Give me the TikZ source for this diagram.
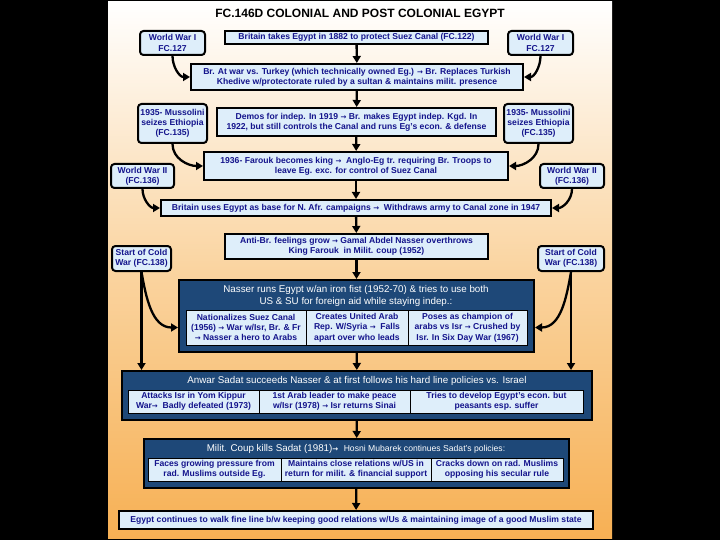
\documentclass[tikz,border=0pt]{standalone}
\usepackage{fontspec}
\setmainfont{Liberation Sans}
\newfontfamily\djv{DejaVu Sans}
\newcommand{\ra}{{\djv\bfseries\fontsize{7}{8}\selectfont →}}
\usetikzlibrary{arrows.meta}
\definecolor{navy}{RGB}{20,20,140}
\definecolor{lightbox}{RGB}{222,238,250}
\definecolor{darkbox}{RGB}{30,72,120}
\definecolor{orng}{RGB}{247,176,84}
\tikzset{
 lbox/.style={draw=black, line width=2pt, fill=lightbox, text=navy, font=\fontsize{8.6}{10.2}\selectfont\bfseries, align=center, inner sep=0pt},
 sbox/.style={lbox, rounded corners=3.5pt},
 dbox/.style={draw=black, line width=2pt, fill=darkbox, inner sep=0pt},
 dtitle/.style={text=white, font=\fontsize{9.8}{12}\selectfont, align=center, inner sep=0pt},
 ibox/.style={draw=black, line width=0.8pt, fill=lightbox, text=navy, font=\fontsize{8.6}{10.4}\selectfont\bfseries, align=center, inner sep=0pt},
 arr/.style={-{Triangle[length=7pt,width=8pt]}, line width=2.3pt, black},
}
\newcommand{\bx}[7]{\node[#1, minimum width=#4-#2, minimum height=#5-#3] (#6) at ({(#2+#4)/2},{(#3+#5)/2}) {#7};}
\begin{document}
\begin{tikzpicture}[x=1pt,y=-1pt]
\fill[black] (0,0) rectangle (720,540);
\useasboundingbox (0,0) rectangle (720,540);
\shade[top color=white, bottom color=orng, middle color={rgb,255:red,250;green,212;blue,160}] (108,2) rectangle (612,538);
\node[font=\fontsize{12}{14}\selectfont\bfseries] (title) at (360,13) {FC.146D COLONIAL AND POST COLONIAL EGYPT};
\bx{sbox}{140}{31}{205}{55}{ww1l}{World War I\\FC.127}
\bx{sbox}{508}{31}{573}{55}{ww1r}{World War I\\FC.127}
\bx{lbox}{225}{31}{488}{44}{brit}{Britain takes Egypt in 1882 to protect Suez Canal (FC.122)}
\bx{lbox}{191}{64}{523}{90}{war}{Br. At war vs. Turkey (which technically owned Eg.) \ra\ Br. Replaces Turkish\\Khedive w/protectorate ruled by a sultan \& maintains milit. presence}
\bx{sbox}{138}{104}{207}{143}{musl}{1935- Mussolini\\seizes Ethiopia\\(FC.135)}
\bx{sbox}{504}{104}{573}{143}{musr}{1935- Mussolini\\seizes Ethiopia\\(FC.135)}
\bx{lbox}{217}{108}{496}{136}{demos}{Demos for indep. In 1919 \ra\ Br. makes Egypt indep. Kgd. In\\1922, but still controls the Canal and runs Eg's econ. \& defense}
\bx{lbox}{204}{152}{508}{180}{farouk}{1936- Farouk becomes king \ra\ \ Anglo-Eg tr. requiring Br. Troops to\\leave Eg. exc. for control of Suez Canal}
\bx{sbox}{111}{164}{174}{188}{ww2l}{World War II\\(FC.136)}
\bx{sbox}{540}{164}{604}{188}{ww2r}{World War II\\(FC.136)}
\bx{lbox}{161}{200}{551}{216}{base}{Britain uses Egypt as base for N. Afr. campaigns \ra\ \ Withdraws army to Canal zone in 1947}
\bx{lbox}{225}{234}{488}{259}{anti}{Anti-Br. feelings grow \ra\ Gamal Abdel Nasser overthrows\\King Farouk \ in Milit. coup (1952)}
\bx{sbox}{112}{246}{171}{271}{cwl}{Start of Cold\\War (FC.138)}
\bx{sbox}{538}{246}{604}{271}{cwr}{Start of Cold\\War (FC.138)}
\bx{dbox}{179}{280}{534}{352}{nasser}{}
\node[dtitle] (nt) at (356,296) {Nasser runs Egypt w/an iron fist (1952-70) \& tries to use both\\US \& SU for foreign aid while staying indep.:};
\bx{ibox}{186}{310}{306}{345}{n1}{Nationalizes Suez Canal\\(1956) \ra\ War w/Isr, Br. \& Fr\\\ra\ Nasser a hero to Arabs}
\bx{ibox}{306}{310}{408}{345}{n2}{Creates United Arab\\Rep. W/Syria \ra\ \ Falls\\apart over who leads}
\bx{ibox}{408}{310}{527}{345}{n3}{Poses as champion of\\arabs vs Isr \ra\ Crushed by\\Isr. In Six Day War (1967)}
\bx{dbox}{122}{371}{592}{420}{sadat}{}
\node[dtitle] (st) at (357,381) {Anwar Sadat succeeds Nasser \& at first follows his hard line policies vs. Israel};
\bx{ibox}{128}{390}{259}{413}{s1}{Attacks Isr in Yom Kippur\\War\ra\ \ Badly defeated (1973)}
\bx{ibox}{259}{390}{410}{413}{s2}{1st Arab leader to make peace\\w/Isr (1978) \ra\ Isr returns Sinai}
\bx{ibox}{410}{390}{583}{413}{s3}{Tries to develop Egypt's econ. but\\peasants esp. suffer}
\bx{dbox}{144}{439}{569}{488}{mub}{}
\node[dtitle] (mt) at (356,449) {Milit. Coup kills Sadat (1981){\color{white}\ra}\ \ {\fontsize{8.6}{10}\selectfont Hosni Mubarek continues Sadat's policies:}};
\bx{ibox}{148}{458}{281}{481}{m1}{Faces growing pressure from\\rad. Muslims outside Eg.}
\bx{ibox}{281}{458}{431}{481}{m2}{Maintains close relations w/US in\\return for milit. \& financial support}
\bx{ibox}{431}{458}{563}{481}{m3}{Cracks down on rad. Muslims\\opposing his secular rule}
\bx{lbox}{119}{511}{593}{529}{final}{Egypt continues to walk fine line b/w keeping good relations w/Us \& maintaining image of a good Muslim state}
\draw[arr] (brit) -- (war);
\draw[arr] (war) -- (demos);
\draw[arr] (demos) -- (farouk);
\draw[arr] (farouk) -- (base);
\draw[arr] (base) -- (anti);
\draw[arr] (anti) -- (nasser);
\draw[arr] (nasser) -- (sadat);
\draw[arr] (sadat) -- (mub);
\draw[arr] (mub) -- (final);
\draw[arr] (ww1l.south) to[out=-90,in=180] (war.west);
\draw[arr] (ww1r.south) to[out=-90,in=0] (war.east);
\draw[arr] (musl.south) to[out=-90,in=180] (farouk.west);
\draw[arr] (musr.south) to[out=-90,in=0] (farouk.east);
\draw[arr] (ww2l.south) to[out=-90,in=180] (base.west);
\draw[arr] (ww2r.south) to[out=-90,in=0] (base.east);
\draw[arr] (cwl.south) to[out=-80,in=180] (nasser.west|-n1.center);
\draw[arr] (cwr.south) to[out=-100,in=0] (nasser.east|-n3.center);
\coordinate (cwlb) at (cwl.south|-sadat.north);
\coordinate (cwrb) at (cwr.south|-sadat.north);
\draw[arr] (cwl.south) -- (cwlb);
\draw[arr] (cwr.south) -- (cwrb);
\end{tikzpicture}
\end{document}
